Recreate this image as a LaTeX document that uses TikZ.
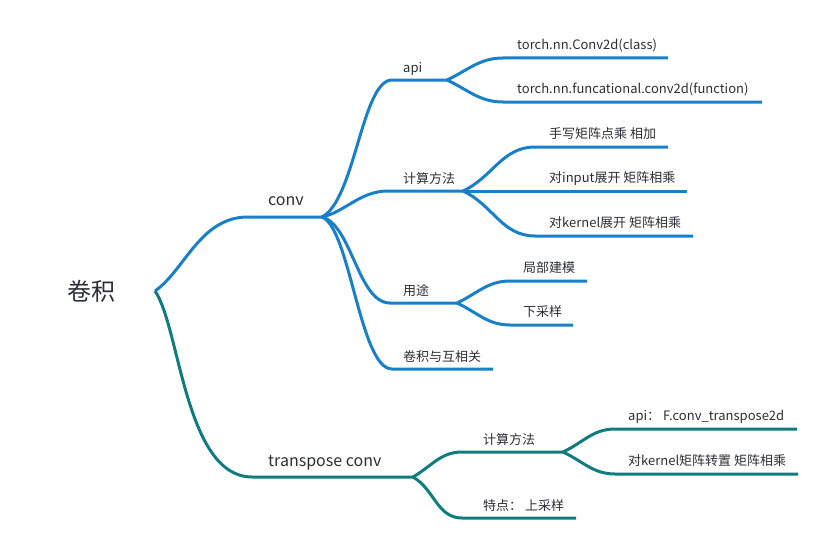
\documentclass[tikz,border=0pt]{standalone}
\usepackage{fontspec}
\setmainfont{Noto Sans CJK SC}
\definecolor{bl}{RGB}{24,128,200}
\definecolor{tl}{RGB}{16,124,128}
\definecolor{tx}{RGB}{45,45,55}
\begin{document}
\begin{tikzpicture}[x=1pt,y=-1pt,
  lbl/.style={anchor=base west, text=tx, font=\fontsize{13}{15}\selectfont, inner sep=0pt},
  big/.style={anchor=base west, text=tx, font=\fontsize{16}{18}\selectfont, inner sep=0pt},
  bbr/.style={draw=bl, line width=3pt},
  tbr/.style={draw=tl, line width=3pt}]
\useasboundingbox (0,0) rectangle (827,551);
% root
\node[text=tx, font=\fontsize{24}{26}\selectfont, inner sep=0pt] (root) at (91,291) {卷积};
\coordinate (R) at (155,291);
% conv
\coordinate (Cs) at (248,217); \coordinate (Ce) at (322,217);
\node[big] (conv) at (268,205) {conv};
\draw[bbr] (R) .. controls (185,270) and (200,217) .. (Cs) -- (Ce);
% api
\coordinate (As) at (392,80); \coordinate (Ae) at (447,80);
\node[lbl] (api) at (403,72) {api};
\draw[bbr] (Ce) .. controls (355,200) and (362,80) .. (As) -- (Ae);
\coordinate (A1s) at (503,58); \coordinate (A1e) at (668,58);
\node[lbl] (a1) at (517,49.5) {torch.nn.Conv2d(class)};
\draw[bbr] (Ae) to[out=25,in=180] (A1s) -- (A1e);
\coordinate (A2s) at (503,102); \coordinate (A2e) at (762,102);
\node[lbl] (a2) at (517,93.5) {torch.nn.funcational.conv2d(function)};
\draw[bbr] (Ae) to[out=-25,in=180] (A2s) -- (A2e);
% calc
\coordinate (Ks) at (388,191); \coordinate (Ke) at (463,191);
\node[lbl] (calc) at (403,183) {计算方法};
\draw[bbr] (Ce) .. controls (345,212) and (360,191) .. (Ks) -- (Ke);
\coordinate (K1s) at (535,147); \coordinate (K1e) at (668,147);
\node[lbl] (k1) at (549,138.5) {手写矩阵点乘 相加};
\draw[bbr] (Ke) to[out=25,in=180] (K1s) -- (K1e);
\coordinate (K2e) at (687,191);
\node[lbl] (k2) at (549,182.5) {对input展开 矩阵相乘};
\draw[bbr] (Ke) -- (K2e);
\coordinate (K3s) at (535,236); \coordinate (K3e) at (693,236);
\node[lbl] (k3) at (549,227.5) {对kernel展开 矩阵相乘};
\draw[bbr] (Ke) to[out=-25,in=180] (K3s) -- (K3e);
% use
\coordinate (Us) at (390,303); \coordinate (Ue) at (457,303);
\node[lbl] (use) at (403,295) {用途};
\draw[bbr] (Ce) .. controls (352,225) and (358,303) .. (Us) -- (Ue);
\coordinate (U1s) at (510,281); \coordinate (U1e) at (587,281);
\node[lbl] (u1) at (523,272.5) {局部建模};
\draw[bbr] (Ue) to[out=25,in=180] (U1s) -- (U1e);
\coordinate (U2s) at (510,325); \coordinate (U2e) at (573,325);
\node[lbl] (u2) at (523,316.5) {下采样};
\draw[bbr] (Ue) to[out=-25,in=180] (U2s) -- (U2e);
% corr
\coordinate (Xs) at (392,369); \coordinate (Xe) at (493,369);
\node[lbl] (corr) at (403,361) {卷积与互相关};
\draw[bbr] (Ce) .. controls (350,228) and (360,369) .. (Xs) -- (Xe);
% transpose conv
\coordinate (Ts) at (252,477); \coordinate (Te) at (413,477);
\node[big] (tconv) at (268,466) {transpose conv};
\draw[tbr] (R) .. controls (180,327) and (185,477) .. (Ts) -- (Te);
\coordinate (TKs) at (462,452); \coordinate (TKe) at (563,452);
\node[lbl] (tcalc) at (483,444) {计算方法};
\draw[tbr] (Te) to[out=30,in=180] (TKs) -- (TKe);
\coordinate (T1s) at (615,429); \coordinate (T1e) at (797,429);
\node[lbl] (t1) at (628,420.5) {api：\ F.conv\_transpose2d};
\draw[tbr] (TKe) to[out=25,in=180] (T1s) -- (T1e);
\coordinate (T2s) at (615,474); \coordinate (T2e) at (798,474);
\node[lbl] (t2) at (628,465.5) {对kernel矩阵转置 矩阵相乘};
\draw[tbr] (TKe) to[out=-25,in=180] (T2s) -- (T2e);
\coordinate (TPs) at (462,518); \coordinate (TPe) at (576,518);
\node[lbl] (tp) at (483,510) {特点：\ 上采样};
\draw[tbr] (Te) to[out=-30,in=180] (TPs) -- (TPe);
\end{tikzpicture}
\end{document}
